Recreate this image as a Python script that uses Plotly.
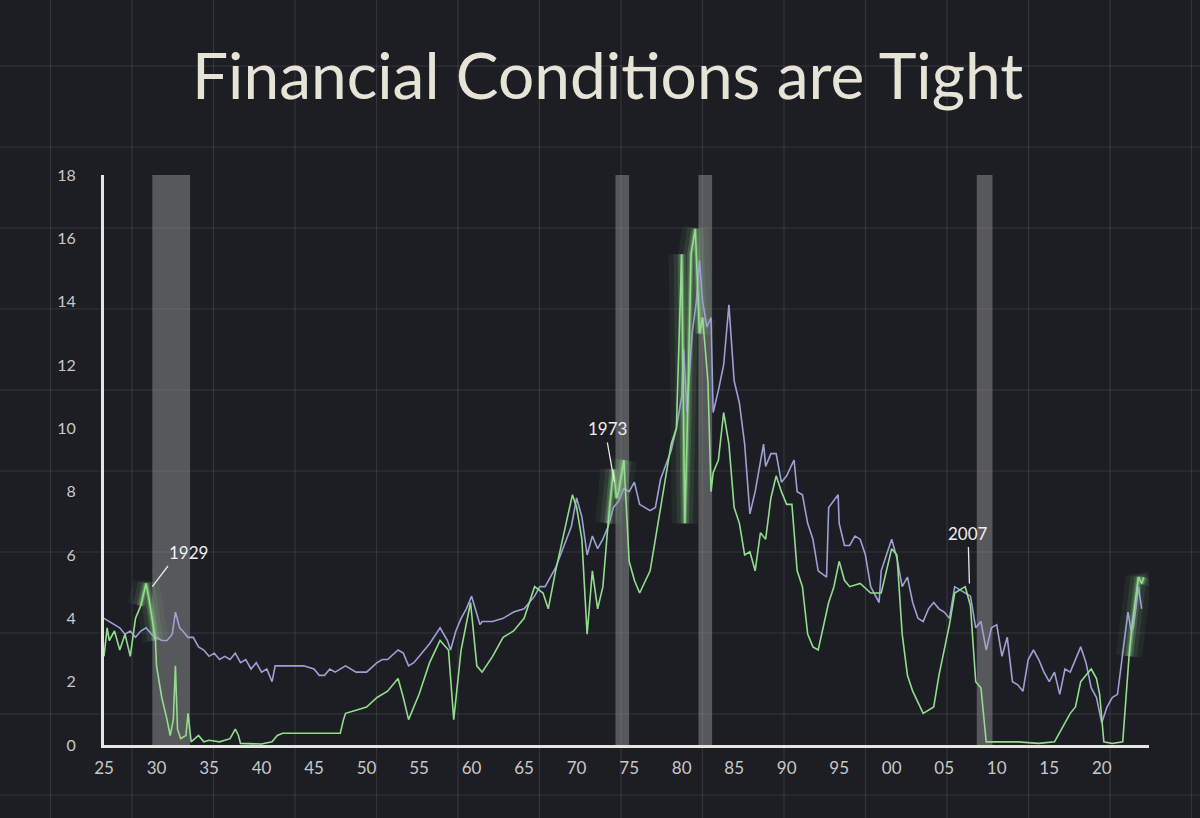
import plotly.graph_objects as go

# ---- data ----
long_years = [1925,1925.5,1926,1926.5,1927,1927.5,1928,1928.5,1929,1929.5,1929.8,1930,1930.5,1931,1931.5,1931.8,1932.2,1932.5,1933,1933.5,1934,1934.5,1935,1935.5,1936,1936.5,1937,1937.5,1938,1938.5,1939,1939.5,1940,1940.5,1941,1941.3,1941.6,1942,1943,1944,1945,1945.5,1946,1946.5,1947,1948,1949,1950,1951,1951.5,1952,1953,1953.5,1954,1954.5,1955,1956,1957,1957.7,1958,1958.5,1959,1959.5,1960,1960.8,1961,1962,1963,1964,1965,1966,1966.5,1967,1968,1969,1969.5,1970,1970.5,1971,1971.5,1972,1972.5,1973,1973.5,1974,1974.5,1975,1975.5,1976,1977,1977.5,1978,1979,1979.5,1980,1980.2,1980.5,1981,1981.4,1981.7,1982,1982.4,1982.8,1983,1983.5,1984,1984.5,1985,1985.5,1986,1986.5,1987,1987.8,1988,1988.5,1989,1989.5,1990,1990.7,1991,1991.5,1992,1992.5,1993,1993.8,1994,1994.9,1995,1995.5,1996,1996.5,1997,1997.5,1998,1998.8,1999,1999.5,2000,2000.5,2001,2001.5,2002,2002.5,2003,2003.5,2004,2004.5,2005,2005.5,2006,2006.5,2007,2007.5,2008,2008.5,2009,2009.5,2010,2010.5,2011,2011.5,2012,2012.5,2013,2013.5,2014,2014.5,2015,2015.5,2016,2016.5,2017,2017.5,2018,2018.5,2019,2019.5,2020,2020.5,2021,2021.5,2022,2022.5,2022.8,2023,2023.5,2023.8,2024]
long_vals = [4.0,3.9,3.8,3.7,3.5,3.6,3.4,3.6,3.7,3.5,3.4,3.4,3.3,3.3,3.5,4.2,3.7,3.6,3.4,3.4,3.1,3.0,2.8,2.9,2.7,2.8,2.7,2.9,2.6,2.7,2.4,2.6,2.3,2.4,2.0,2.5,2.5,2.5,2.5,2.5,2.4,2.2,2.2,2.4,2.3,2.5,2.3,2.3,2.6,2.7,2.7,3.0,2.9,2.5,2.6,2.8,3.2,3.7,3.3,3.0,3.6,4.0,4.3,4.7,3.8,3.9,3.9,4.0,4.2,4.3,4.7,5.0,5.0,5.6,6.5,6.9,7.8,7.2,6.0,6.6,6.2,6.5,6.9,7.5,7.7,8.1,8.0,8.3,7.6,7.4,7.5,8.4,9.3,10.0,11.0,12.5,10.5,13.0,14.0,15.3,14.0,13.2,13.5,10.5,11.2,12.0,13.9,11.5,10.8,9.5,7.3,8.0,9.5,8.8,9.2,9.2,8.3,8.5,9.0,8.0,7.9,7.0,6.5,5.5,5.3,7.5,7.9,7.0,6.3,6.3,6.6,6.5,6.0,5.0,4.5,5.5,6.0,6.5,5.9,5.0,5.3,4.5,4.0,3.9,4.3,4.5,4.3,4.2,4.0,5.0,4.9,4.8,4.7,3.7,3.9,3.0,3.7,3.8,2.8,3.4,2.0,1.9,1.7,2.7,3.0,2.7,2.3,2.0,2.3,1.6,2.4,2.3,2.7,3.1,2.6,1.8,1.5,0.7,1.2,1.5,1.6,3.0,4.2,3.6,3.7,5.0,4.3]

short_years = [1925,1925.3,1925.5,1926,1926.5,1927,1927.5,1928,1928.5,1929,1929.3,1929.6,1929.9,1930,1930.5,1931,1931.3,1931.6,1931.8,1932,1932.3,1932.8,1933,1933.3,1934,1934.5,1935,1936,1937,1937.5,1937.8,1938,1939,1940,1941,1941.5,1942,1947.5,1947.8,1948,1949,1950,1951,1952,1953,1953.5,1954,1954.5,1955,1956,1957,1957.8,1958.3,1959,1959.9,1960.5,1961,1962,1963,1964,1965,1966,1966.8,1967.3,1968,1969,1969.6,1970,1970.5,1971,1971.5,1972,1972.5,1973,1973.5,1973.8,1974,1974.5,1975,1975.5,1976,1977,1978,1979,1979.5,1980,1980.3,1980.5,1980.9,1981.3,1981.7,1982,1982.5,1982.8,1983,1983.5,1984,1984.5,1985,1985.5,1986,1986.5,1987,1987.5,1988,1988.5,1989,1989.5,1990,1990.5,1991,1991.5,1992,1992.5,1993,1994,1994.5,1995,1995.5,1996,1997,1998,1999,2000,2000.5,2001,2001.5,2002,2003,2003.5,2004,2004.5,2005,2005.5,2006,2007,2007.5,2008,2008.5,2009,2010,2012,2014,2015.5,2016,2017,2017.5,2018,2018.5,2019,2019.5,2019.8,2020.2,2021,2022,2022.3,2022.6,2022.9,2023.2,2023.5,2023.8,2024]
short_vals = [2.8,3.7,3.3,3.6,3.0,3.5,2.8,4.0,4.4,5.1,4.6,4.0,3.3,2.5,1.5,0.8,0.3,0.8,2.5,0.5,0.2,0.3,1.0,0.1,0.3,0.1,0.15,0.1,0.2,0.5,0.3,0.05,0.03,0.03,0.1,0.3,0.37,0.37,0.8,1.0,1.1,1.2,1.5,1.7,2.1,1.5,0.8,1.2,1.6,2.6,3.3,3.0,0.8,3.0,4.5,2.5,2.3,2.8,3.4,3.6,4.0,5.0,4.8,4.3,5.5,7.0,7.9,7.5,6.5,3.5,5.5,4.3,5.0,7.0,8.7,7.8,8.0,9.0,5.8,5.2,4.8,5.5,7.5,9.5,10.0,15.5,7.0,9.5,15.5,16.3,13.0,13.5,11.5,8.0,8.6,9.0,10.5,9.5,7.5,7.0,6.0,6.1,5.5,6.7,6.5,7.8,8.5,8.0,7.6,7.6,5.5,5.0,3.5,3.1,3.0,4.5,5.0,5.8,5.2,5.0,5.1,4.8,4.8,6.2,6.0,3.5,2.2,1.7,1.0,1.1,1.2,2.2,3.0,3.8,4.8,5.0,4.4,2.0,1.8,0.1,0.1,0.1,0.05,0.1,0.4,1.0,1.2,2.0,2.2,2.4,2.1,1.6,0.1,0.05,0.1,1.5,2.8,3.8,4.5,5.3,5.1,5.3,5.2]

recessions = [(1929.6,1933.2),(1973.7,1975.0),(1981.6,1982.9),(2008.1,2009.6)]
annotations_txt = [("1929",1929.6,5.0,1931.2,5.7,1933.0),("1973",1973.6,8.3,1972.9,9.6,1972.9),("2007",2007.4,5.1,2007.3,6.3,2007.3)]
glow_ranges = [(1928.3,1929.9),(1973.0,1974.5),(1980.0,1982.0),(2022.6,2024)]
ytick_vals = list(range(0,19,2))
xtick_vals = list(range(1925,2021,5))
xtick_text = [f"{y%100:02d}" for y in xtick_vals]

BG = "#1d1e24"
GREEN = "#93dc8e"
LAV = "#9da0d2"

fig = go.Figure()
for a, b in glow_ranges:
    xs = [x for x in short_years if a <= x <= b]
    ys = [short_vals[short_years.index(x)] for x in xs]
    for w, op in [(26, 0.06), (16, 0.1), (8, 0.2), (4, 0.35)]:
        fig.add_trace(go.Scatter(x=xs, y=ys, mode="lines", line=dict(color=GREEN, width=w),
                                 opacity=op, hoverinfo="skip", showlegend=False))
fig.add_trace(go.Scatter(x=long_years, y=long_vals, mode="lines", line=dict(color=LAV, width=1.6), showlegend=False))
fig.add_trace(go.Scatter(x=short_years, y=short_vals, mode="lines", line=dict(color=GREEN, width=1.6), showlegend=False))

shapes = []
for a, b in recessions:
    shapes.append(dict(type="rect", xref="x", yref="y", x0=a, x1=b, y0=0, y1=18,
                       fillcolor="rgba(170,170,170,0.42)", line=dict(width=0), layer="below"))
L, R, T, B = 104, 51, 175, 73
W, H = 1200 - L - R, 818 - T - B
for k in range(-2, 15):
    px = 132 + 81.5 * k
    if 0 <= px <= 1200:
        shapes.append(dict(type="line", xref="paper", yref="paper", x0=(px-L)/W, x1=(px-L)/W,
                           y0=-B/H, y1=(818-B)/H, line=dict(color="rgba(255,255,255,0.1)", width=1.2), layer="below"))
for k in range(-4, 10):
    py = 552 - 81 * k
    if 0 <= py <= 818:
        shapes.append(dict(type="line", xref="paper", yref="paper", y0=(818-B-py)/H, y1=(818-B-py)/H,
                           x0=-L/W, x1=1200/W, line=dict(color="rgba(255,255,255,0.1)", width=1.2), layer="below"))

anns = []
for t, ax_, ay_, tx, ty, lx in annotations_txt:
    anns.append(dict(x=ax_, y=ay_, ax=tx, ay=ty, xref="x", yref="y", axref="x", ayref="y",
                     text="", showarrow=True, arrowhead=0, arrowwidth=1.3, arrowcolor="#e8e8e8"))
    anns.append(dict(x=lx, y=ty, xref="x", yref="y", text=t, showarrow=False, yanchor="bottom",
                     font=dict(size=17, color="#eeeeee", family="Lato")))
anns.append(dict(x=(607-L)/W, y=(818-B-75)/H, xref="paper", yref="paper", xanchor="center", yanchor="middle",
                 text="Financial Conditions are Tight", showarrow=False,
                 font=dict(size=64, color="#e6e4d6", family="Lato")))

fig.update_layout(
    width=1200, height=818, paper_bgcolor=BG, plot_bgcolor="rgba(0,0,0,0)",
    margin=dict(l=L, r=R, t=T, b=B), shapes=shapes, annotations=anns,
    xaxis=dict(range=[1925, 2024.5], tickvals=xtick_vals, ticktext=xtick_text, showgrid=False, zeroline=False,
               showline=True, linecolor="#e6e6e0", linewidth=3, ticks="outside", ticklen=6, tickcolor="rgba(0,0,0,0)",
               tickfont=dict(size=17, color="#c8c8c8", family="Lato")),
    yaxis=dict(range=[0, 18], tickvals=ytick_vals, showgrid=False, zeroline=False,
               showline=True, linecolor="#e6e6e0", linewidth=3, ticks="outside", ticklen=22, tickcolor="rgba(0,0,0,0)",
               tickfont=dict(size=16, color="#c8c8c8", family="Lato")),
)
fig.write_html("out.html", config={"displayModeBar": False},
               post_script="document.body.style.margin='0';document.body.style.background='#1d1e24';")
